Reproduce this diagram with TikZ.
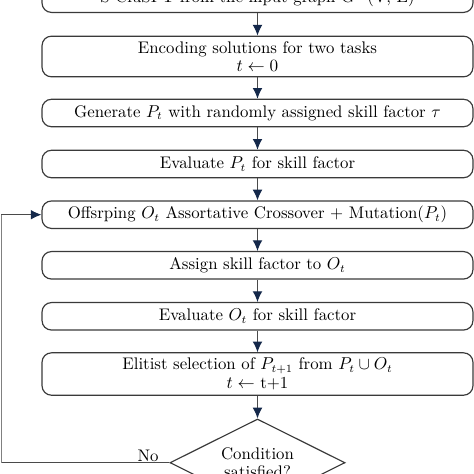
\documentclass[tikz,border=0pt]{standalone}
\usetikzlibrary{arrows.meta,shapes.geometric}
\definecolor{navy}{HTML}{14284A}
\definecolor{edge}{HTML}{3A3A3A}
\definecolor{conn}{HTML}{4A4A4A}
\begin{document}
\begin{tikzpicture}[x=0.637pt,y=-0.637pt,
  every node/.style={font=\fontsize{10.7}{11.9}\selectfont},
  box/.style={draw=edge, line width=0.75pt, rounded corners=6pt, minimum width=274.5pt,
    inner sep=0pt, align=center},
  flow/.style={draw=conn, line width=0.65pt, -{Latex[length=6.8pt,width=6.2pt,color=navy,fill=navy]}},
  plainline/.style={draw=conn, line width=0.65pt},
  loopline/.style={draw=conn!70, line width=0.65pt},
  decision/.style={draw=edge, line width=0.75pt, diamond, aspect=2, minimum width=111.5pt,
    minimum height=55.7pt, inner sep=0pt, align=center}]
\useasboundingbox (0,0) rectangle (474,474);
\clip (0,0) rectangle (474,474);
\node[box, minimum height=17.5pt, anchor=south] (b1) at (257.5,13) {S-CluSPT from the input graph G=(V, E)};
\node[box, minimum height=25.9pt] (b2) at (257.5,56.5) {Encoding solutions for two tasks\\ $t \leftarrow 0$};
\node[box, minimum height=17.5pt] (b3) at (257.5,113) {Generate $P_t$ with randomly assigned skill factor $\tau$};
\node[box, minimum height=17.5pt] (b4) at (257.5,164) {Evaluate $P_t$ for skill factor};
\node[box, minimum height=17.5pt] (b5) at (257.5,214.7) {Offsrping $O_t$ Assortative Crossover + Mutation($P_t$)};
\node[box, minimum height=17.5pt] (b6) at (257.5,265.3) {Assign skill factor to $O_t$};
\node[box, minimum height=17.5pt] (b7) at (257.5,316.3) {Evaluate $O_t$ for skill factor};
\node[box, minimum height=27pt] (b8) at (257.5,374) {Elitist selection of $P_{t+1}$ from $P_t \cup O_t$\\ $t \leftarrow$ t+1};
\node[decision] (d) at (257.5,462.7) {Condition\\ satisfied?};
\coordinate (lb) at (1.5,462.7);
\coordinate (lt) at (1.5,214.7);
\draw[flow] (b1) -- (b2);
\draw[flow] (b2) -- (b3);
\draw[flow] (b3) -- (b4);
\draw[flow] (b4) -- (b5);
\draw[flow] (b5) -- (b6);
\draw[flow] (b6) -- (b7);
\draw[flow] (b7) -- (b8);
\draw[flow] (b8) -- (d);
\draw[plainline] (d.west) -- (lb);
\draw[loopline] (lb) -- (lt);
\draw[flow] (lt) -- (b5.west);
\node (nolab) at (148,456) {No};
\end{tikzpicture}
\end{document}
